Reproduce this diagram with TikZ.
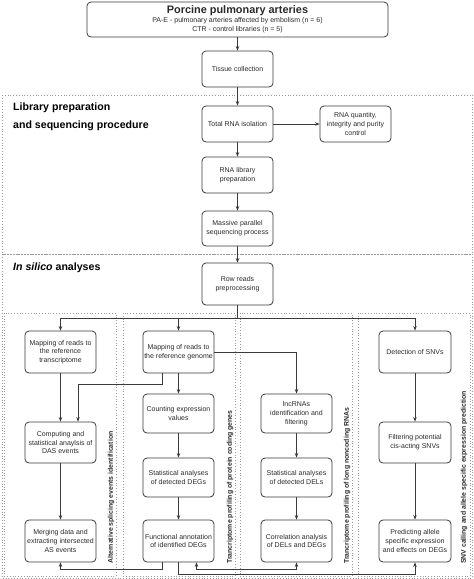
\documentclass[tikz,border=0pt]{standalone}
\usepackage{fontspec}
\setmainfont{Liberation Sans}
\usetikzlibrary{arrows.meta,calc}
\definecolor{boxc}{HTML}{3A3A3A}
\definecolor{txtc}{HTML}{2A2A2A}
\definecolor{framec}{HTML}{9A9A9A}
\begin{document}
\begin{tikzpicture}[x=1pt,y=-1pt,
  box/.style={draw=boxc, line width=0.8pt, rounded corners=4pt, align=center,
    font=\fontsize{7}{8.7}\selectfont, text=txtc, inner sep=0pt,
    minimum width=71pt},
  arr/.style={-{Stealth[length=4.5pt,width=3.5pt]}, line width=0.7pt, draw=boxc},
  frame/.style={draw=framec, dotted, line width=0.8pt},
  sectitle/.style={anchor=west, font=\fontsize{10.6}{12}\selectfont\bfseries, text=black, inner sep=0pt},
  collabel/.style={anchor=west, rotate=90, font=\fontsize{6.9}{8}\selectfont\bfseries, text=txtc, inner sep=0pt}]
\useasboundingbox (0,0) rectangle (474,579);
% frames
\draw[frame] (2,95) rectangle (472,254);
\draw[frame] (2,254) rectangle (472,578);
\draw[frame] (4,313) rectangle (116,576);
\draw[frame] (123,313) rectangle (235,576);
\draw[frame] (240,313) rectangle (352,576);
\draw[frame] (358,313) rectangle (470,576);
% section titles
\node[sectitle] (t1) at (13,108) {Library preparation};
\node[sectitle] (t2) at (13,126) {and sequencing procedure};
\node[sectitle] (t3) at (13,268) {\textit{In silico} analyses};
% top box
\node[box, minimum width=301pt, minimum height=35pt] (top) at (237.5,19.5)
  {{\fontsize{10.9}{12}\selectfont\bfseries Porcine pulmonary arteries}\\[0.5pt]
   PA-E - pulmonary arteries affected by embolism (n = 6)\\
   CTR - control libraries (n = 5)};
\node[box, minimum height=36pt] (tissue) at (237.5,69) {Tissue collection};
\node[box, minimum height=36pt] (total) at (237.5,124) {Total RNA isolation};
\node[box, minimum height=36pt] (qc) at (355.5,124) {RNA quantity,\\integrity and purity\\control};
\node[box, minimum height=36pt] (lib) at (237.5,175) {RNA library\\preparation};
\node[box, minimum height=35pt] (mps) at (237.5,228.5) {Massive parallel\\sequencing process};
\node[box, minimum height=42pt] (row) at (237.5,284) {Row reads\\preprocessing};
% column 1
\node[box, minimum height=42pt] (c1a) at (60.5,352) {Mapping of reads to\\the reference\\transcriptome};
\node[box, minimum height=41pt] (c1b) at (60.5,442.5) {Computing and\\statistical anaylsis of\\DAS events};
\node[box, minimum height=42pt] (c1c) at (60.5,541) {Merging data and\\extracting intersected\\AS events};
% column 2
\node[box, minimum height=42pt] (c2a) at (178.5,352) {Mapping of reads to\\the reference genome};
\node[box, minimum height=39pt] (c2b) at (178.5,413.5) {Counting expression\\values};
\node[box, minimum height=39pt] (c2c) at (178.5,477.5) {Statistical analyses\\of detected DEGs};
\node[box, minimum height=42pt] (c2d) at (178.5,541) {Functional annotation\\of identified DEGs};
% column 3
\node[box, minimum height=39pt] (c3a) at (296.5,413.5) {lncRNAs\\identification and\\filtering};
\node[box, minimum height=39pt] (c3b) at (296.5,477.5) {Statistical analyses\\of detected DELs};
\node[box, minimum height=42pt] (c3c) at (296.5,541) {Correlation analysis\\of DELs and DEGs};
% column 4
\node[box, minimum height=42pt, minimum width=72pt] (c4a) at (415,352) {Detection of SNVs};
\node[box, minimum height=41pt, minimum width=72pt] (c4b) at (415,442.5) {Filtering potential\\cis-acting SNVs};
\node[box, minimum height=42pt, minimum width=72pt] (c4c) at (415,541) {Predicting allele\\specific expression\\and effects on DEGs};
% column labels
\node[collabel] (l1) at (111,564) {Alternative splicing events identification};
\node[collabel] (l2) at (230,564) {Trancriptome profiling of protein coding genes};
\node[collabel] (l3) at (347,564) {Trancriptome profiling of long noncoding RNAs};
\node[collabel] (l4) at (464,564) {SNV calling and allele specific expression prediction};
% connectors
\draw[arr] (top) -- (tissue);
\draw[arr] (tissue) -- (total);
\draw[arr] (total) -- (qc);
\draw[arr] (total) -- (lib);
\draw[arr] (lib) -- (mps);
\draw[arr] (mps) -- (row);
\coordinate (br) at (237.5,318);
\draw[arr] (row.south) -- (br) -| (c1a.north);
\draw[arr] (br) -| (c2a.north);
\draw[arr] (br) -| (c4a.north);
\draw[arr] (c2a.east) -| (c3a.north);
\draw[arr] ($(c2a.south)+(-16.5,0)$) -- ++(0,11) -| ($(c1b.north)+(17.5,0)$);
\draw[arr] (c1a) -- (c1b);
\draw[arr] (c1b) -- (c1c);
\draw[arr] (c2a) -- (c2b);
\draw[arr] (c2b) -- (c2c);
\draw[arr] (c2c) -- (c2d);
\draw[arr] (c3a) -- (c3b);
\draw[arr] (c3b) -- (c3c);
\draw[arr] (c4a) -- (c4b);
\draw[arr] (c4b) -- (c4c);
\draw[arr] ($(c2d.south)+(-16.5,0)$) -- ++(0,7) -| (c1c.south);
\draw[arr, {Stealth[length=4.5pt,width=3.5pt]}-{Stealth[length=4.5pt,width=3.5pt]}] ($(c2d.south)+(18,0)$) -- ++(0,7) -| (c3c.south);
\draw[arr] (c2d.south) -- ++(0,12) -| (c4c.south);
\end{tikzpicture}
\end{document}
